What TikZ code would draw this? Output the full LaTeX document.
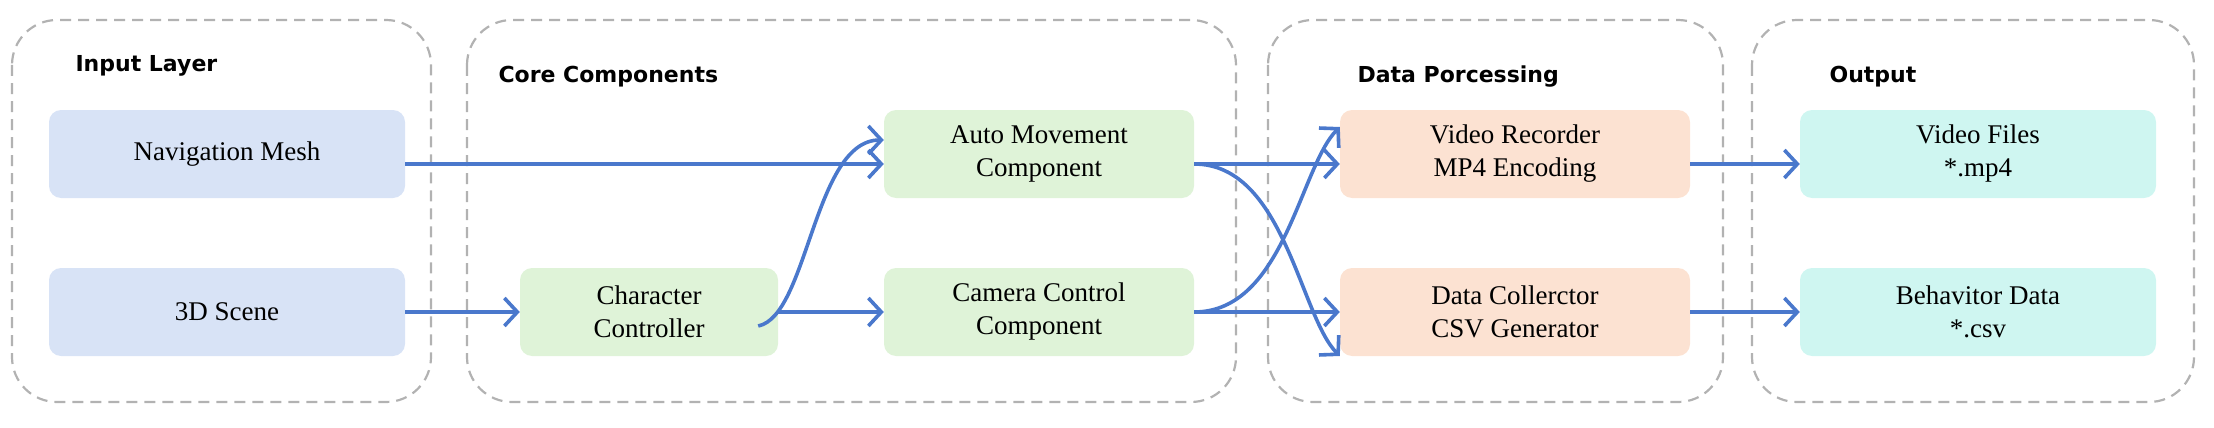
\documentclass[tikz,border=0pt]{standalone}
\usepackage{fontspec}
\setmainfont{Liberation Serif}
\newfontfamily\titlefont{DejaVu Sans}
\usetikzlibrary{arrows.meta}
\usetikzlibrary{positioning}
\usetikzlibrary{calc}
\definecolor{flowblue}{HTML}{4A78CC}
\definecolor{inblue}{HTML}{D8E3F6}
\definecolor{coregreen}{HTML}{DFF3D8}
\definecolor{procorange}{HTML}{FCE2D2}
\definecolor{outcyan}{HTML}{CFF6F1}
\tikzset{
  group/.style={draw=black!30,dashed,line width=2.2pt,rounded corners=45pt,dash pattern=on 11pt off 7pt},
  box/.style={rounded corners=12pt,inner sep=0pt,minimum height=88pt,align=center,font=\fontsize{27}{33}\selectfont},
  title/.style={anchor=west,font=\titlefont\bfseries\fontsize{22}{26}\selectfont},
  flow/.style={draw=flowblue,line width=3.6pt,-{Straight Barb[length=13pt,width=28pt,line width=3.6pt]}}
}
\begin{document}
\begin{tikzpicture}[x=1pt,y=-1pt]
  \useasboundingbox (0,0) rectangle (2214,428);
  % groups
  \draw[group] (12,20) rectangle (431,402);
  \draw[group] (467,20) rectangle (1236,402);
  \draw[group] (1268,20) rectangle (1723,402);
  \draw[group] (1752,20) rectangle (2194,402);
  \node[title] (tin) at (72,66) {Input Layer};
  \node[title] (tcore) at (495,77) {Core Components};
  \node[title] (tproc) at (1354,77) {Data Porcessing};
  \node[title] (tout) at (1826,77) {Output};
  % boxes
  \begin{scope}[every node/.append style={box}]
    \node[fill=inblue,minimum width=356pt] (nav) at (227,154) {Navigation Mesh};
    \node[fill=inblue,minimum width=356pt] (scene) at (227,312) {3D Scene};
    \node[fill=coregreen,minimum width=258pt] (char) at (649,312) {Character\\Controller};
    \node[fill=coregreen,minimum width=310pt] (auto) at (1039,154) {Auto Movement\\Component};
    \node[fill=coregreen,minimum width=310pt] (cam) at (1039,312) {Camera Control\\Component};
    \node[fill=procorange,minimum width=350pt] (rec) at (1515,154) {Video Recorder\\MP4 Encoding};
    \node[fill=procorange,minimum width=350pt] (coll) at (1515,312) {Data Collerctor\\CSV Generator};
    \node[fill=outcyan,minimum width=356pt] (vid) at (1978,154) {Video Files\\*.mp4};
    \node[fill=outcyan,minimum width=356pt] (beh) at (1978,312) {Behavitor Data\\*.csv};
  \end{scope}
  % connectors
  \draw[flow] ([yshift=-10]nav.east) -- ([yshift=-10]auto.west);
  \draw[flow] (scene.east) -- (char.west);
  \draw[flow] ([xshift=-20,yshift=-14]char.east) .. controls +(50,-10) and +(-70,0) .. ([yshift=14]auto.west);
  \draw[flow] (char.east) -- (cam.west);
  \draw[flow] ([yshift=-10]auto.east) -- ([yshift=-10]rec.west);
  \draw[flow] ([yshift=-10]auto.east) .. controls +(90,0) and +(-40,-40) .. ([yshift=-44]coll.west);
  \draw[flow] (cam.east) .. controls +(90,0) and +(-40,40) .. ([yshift=27]rec.west);
  \draw[flow] (cam.east) -- (coll.west);
  \draw[flow] ([yshift=-10]rec.east) -- ([yshift=-10]vid.west);
  \draw[flow] (coll.east) -- (beh.west);
\end{tikzpicture}
\end{document}
